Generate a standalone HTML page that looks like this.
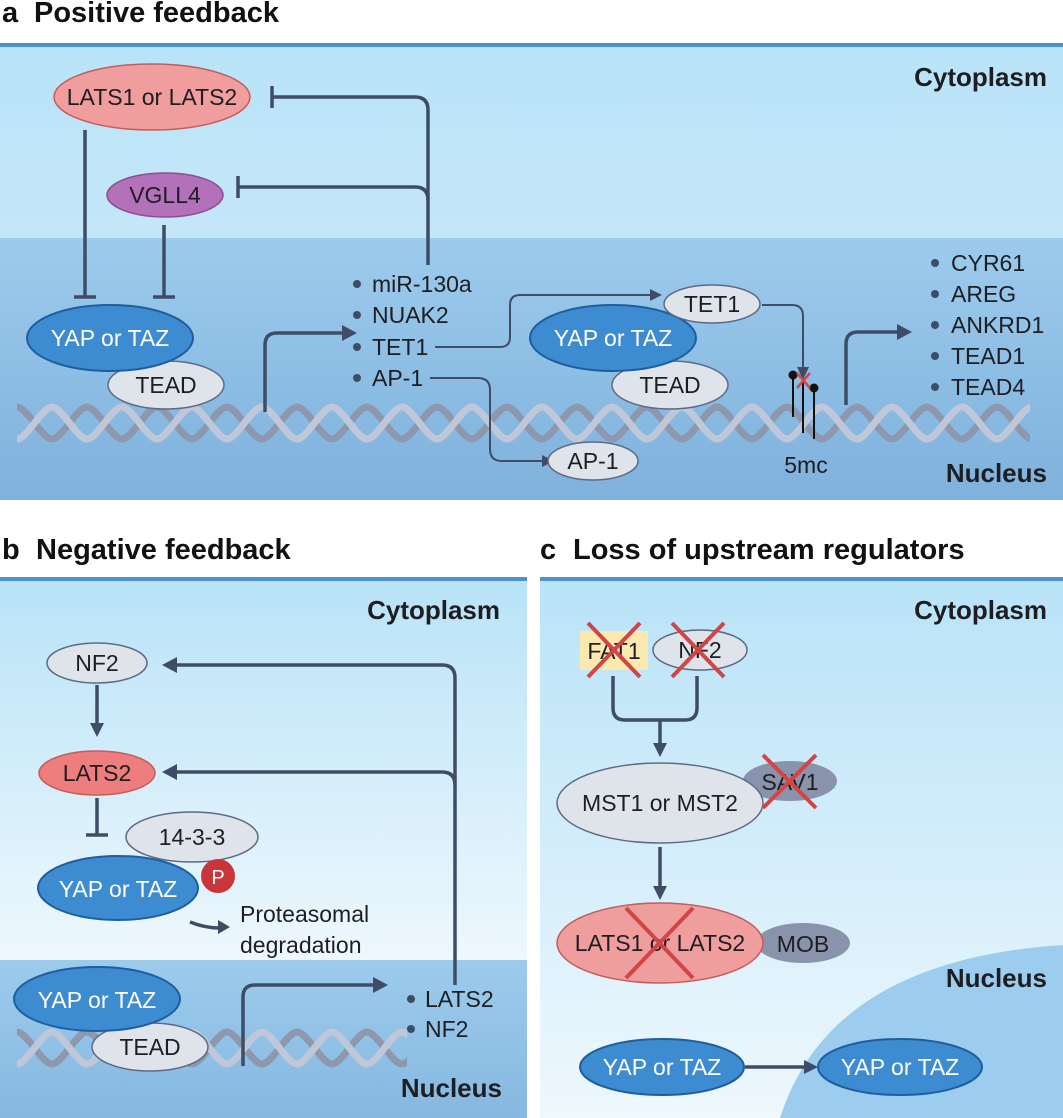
<!DOCTYPE html>
<html><head><meta charset="utf-8"><style>
html,body{margin:0;padding:0;background:#fff;}
svg{display:block;font-family:"Liberation Sans",sans-serif;}
.t{font-size:23px;fill:#1e1e22;}
.b{font-size:26px;font-weight:bold;fill:#1e1e22;}
.h{font-size:29px;font-weight:bold;fill:#111;}
.ln{fill:none;stroke:#3e4c66;stroke-width:3.5;}
.lt{fill:none;stroke:#3e4c66;stroke-width:2;}
.ar{fill:#3e4c66;}
.gray{fill:#dfe3ea;stroke:#5d6a86;stroke-width:1.5;}
.red{fill:#ef9d9d;stroke:#c65b5b;stroke-width:1.5;}
.blue{fill:#3d8bd0;stroke:#1f5e9e;stroke-width:2;}
.x{stroke:#d04646;stroke-width:4;}
</style></head><body>
<svg width="1063" height="1118" viewBox="0 0 1063 1118" xmlns="http://www.w3.org/2000/svg">
<defs>
<linearGradient id="ca" x1="0" y1="0" x2="0" y2="1"><stop offset="0" stop-color="#b9e3f8"/><stop offset="1" stop-color="#c4e7f8"/></linearGradient>
<linearGradient id="na" x1="0" y1="0" x2="0" y2="1"><stop offset="0" stop-color="#9ccbec"/><stop offset="1" stop-color="#7fb1dc"/></linearGradient>
<linearGradient id="cb" x1="0" y1="0" x2="0" y2="1"><stop offset="0" stop-color="#b9e3f8"/><stop offset="1" stop-color="#eef8fd"/></linearGradient>
<linearGradient id="nb" x1="0" y1="0" x2="0" y2="1"><stop offset="0" stop-color="#9ccbec"/><stop offset="1" stop-color="#86b8e0"/></linearGradient>
<pattern id="dna" x="17" y="403" width="70" height="40" patternUnits="userSpaceOnUse">
<path d="M0 4 C10 4 25 36 35 36 C45 36 60 4 70 4" fill="none" stroke="#8d97ad" stroke-width="7"/>
<path d="M0 36 C10 36 25 4 35 4 C45 4 60 36 70 36" fill="none" stroke="#bfc7d8" stroke-width="7"/>
</pattern>
<pattern id="dnb" x="17" y="1028" width="70" height="40" patternUnits="userSpaceOnUse">
<path d="M0 4 C10 4 25 36 35 36 C45 36 60 4 70 4" fill="none" stroke="#8d97ad" stroke-width="7"/>
<path d="M0 36 C10 36 25 4 35 4 C45 4 60 36 70 36" fill="none" stroke="#bfc7d8" stroke-width="7"/>
</pattern>
</defs>

<!-- PANEL A -->
<text x="2" y="22" class="h">a</text><text x="34" y="22" class="h">Positive feedback</text>
<rect x="0" y="43" width="1063" height="4" fill="#4a93cc"/>
<rect x="0" y="47" width="1063" height="191" fill="url(#ca)"/>
<rect x="0" y="238" width="1063" height="262" fill="url(#na)"/>
<text x="1047" y="86" class="b" text-anchor="end">Cytoplasm</text>
<text x="1047" y="482" class="b" text-anchor="end">Nucleus</text>
<rect x="17" y="403" width="1013" height="40" fill="url(#dna)"/>

<ellipse cx="152" cy="97" rx="98" ry="33" class="red"/>
<text x="152" y="105" class="t" text-anchor="middle">LATS1 or LATS2</text>
<ellipse cx="165" cy="195" rx="58" ry="22" fill="#b271b9" stroke="#8c4d95" stroke-width="1.5"/>
<text x="165" y="203" class="t" text-anchor="middle">VGLL4</text>
<ellipse cx="166" cy="385" rx="58" ry="24" class="gray"/>
<text x="166" y="393" class="t" text-anchor="middle">TEAD</text>
<ellipse cx="110" cy="338" rx="83" ry="33" class="blue"/>
<text x="110" y="346" class="t" text-anchor="middle" style="fill:#fff">YAP or TAZ</text>
<!-- inhibitors -->
<path class="ln" d="M85 130 V297"/><path class="ln" d="M74 297 H96"/>
<path class="ln" d="M164 225 V297"/><path class="ln" d="M153 297 H175"/>

<path class="ln" d="M265 412 V345 Q265 333 277 333 H345"/><path class="ar" d="M357 333 L342 325 L342 341Z"/>
<path class="ln" d="M428 265 V110 Q428 97 415 97 H272"/><path class="ln" d="M272 86 V108"/>
<path class="ln" d="M428 200 Q428 187 415 187 H238"/><path class="ln" d="M238 176 V198"/>

<g class="t"><circle cx="357" cy="284" r="4" class="ar"/><text x="372" y="292">miR-130a</text>
<circle cx="357" cy="315" r="4" class="ar"/><text x="372" y="323">NUAK2</text>
<circle cx="357" cy="347" r="4" class="ar"/><text x="372" y="355">TET1</text>
<circle cx="357" cy="378" r="4" class="ar"/><text x="372" y="386">AP-1</text></g>

<path class="lt" d="M435 347 H500 Q510 347 510 337 V305 Q510 295 520 295 H650"/><path class="ar" d="M662 295 L650 289 L650 301Z"/>
<path class="lt" d="M430 378 H478 Q490 378 490 390 V449 Q490 461 502 461 H542"/><path class="ar" d="M554 461 L542 455 L542 467Z"/>
<ellipse cx="593" cy="461" rx="45" ry="19" class="gray"/><text x="593" y="469" class="t" text-anchor="middle">AP-1</text>

<ellipse cx="670" cy="385" rx="58" ry="24" class="gray"/><text x="670" y="393" class="t" text-anchor="middle">TEAD</text>
<ellipse cx="613" cy="338" rx="83" ry="33" class="blue"/>
<text x="613" y="346" class="t" text-anchor="middle" style="fill:#fff">YAP or TAZ</text>
<ellipse cx="712" cy="304" rx="48" ry="19" class="gray"/><text x="712" y="312" class="t" text-anchor="middle">TET1</text>

<path class="lt" d="M762 305 H792 Q803 305 803 316 V368"/><path class="ar" d="M803 380 L797 367 L809 367Z"/>
<path d="M793 375 V417 M803 380 V433 M814 388 V439" stroke="#111" stroke-width="2"/>
<circle cx="793" cy="375" r="4.5" fill="#111"/><circle cx="814" cy="388" r="4.5" fill="#111"/>
<path class="x" style="stroke-width:2.5" d="M797 373 L810 388 M810 373 L797 388"/>
<text x="806" y="473" class="t" text-anchor="middle">5mc</text>
<path class="ln" d="M846 405 V344 Q846 332 858 332 H900"/><path class="ar" d="M912 332 L897 324 L897 340Z"/>
<g class="t"><circle cx="935" cy="263" r="4" class="ar"/><text x="951" y="271">CYR61</text>
<circle cx="935" cy="294" r="4" class="ar"/><text x="951" y="302">AREG</text>
<circle cx="935" cy="325" r="4" class="ar"/><text x="951" y="333">ANKRD1</text>
<circle cx="935" cy="356" r="4" class="ar"/><text x="951" y="364">TEAD1</text>
<circle cx="935" cy="387" r="4" class="ar"/><text x="951" y="395">TEAD4</text></g>

<!-- PANEL B -->
<text x="2" y="559" class="h">b</text><text x="36" y="559" class="h">Negative feedback</text>
<rect x="0" y="577" width="527" height="4" fill="#4a93cc"/>
<rect x="0" y="581" width="527" height="379" fill="url(#cb)"/>
<rect x="0" y="960" width="527" height="158" fill="url(#nb)"/>
<text x="500" y="619" class="b" text-anchor="end">Cytoplasm</text>
<text x="502" y="1097" class="b" text-anchor="end">Nucleus</text>
<rect x="17" y="1028" width="390" height="40" fill="url(#dnb)"/>

<ellipse cx="97" cy="663" rx="50" ry="20" class="gray"/><text x="97" y="671" class="t" text-anchor="middle">NF2</text>
<path class="ln" d="M97 685 V725"/><path class="ar" d="M97 737 L90 723 L104 723Z"/>
<ellipse cx="97" cy="773" rx="58" ry="22" fill="#ee7d7d" stroke="#c65b5b" stroke-width="1.5"/><text x="97" y="781" class="t" text-anchor="middle">LATS2</text>
<path class="ln" d="M97 798 V835"/><path class="ln" d="M86 835 H108"/>
<ellipse cx="192" cy="837" rx="66" ry="25" class="gray"/><text x="192" y="845" class="t" text-anchor="middle">14-3-3</text>
<ellipse cx="118" cy="888" rx="80" ry="32" class="blue"/><text x="118" y="897" class="t" text-anchor="middle" style="fill:#fff">YAP or TAZ</text>
<circle cx="218" cy="876" r="17" fill="#c8363a"/><text x="218" y="884" class="t" text-anchor="middle" style="fill:#fff;font-size:20px">P</text>
<path class="ln" d="M190 922 Q205 928 220 928"/><path class="ar" d="M230 927 L218 920 L218 934Z"/>
<text x="240" y="922" class="t">Proteasomal</text><text x="240" y="953" class="t">degradation</text>

<ellipse cx="150" cy="1047" rx="58" ry="24" class="gray"/><text x="150" y="1055" class="t" text-anchor="middle">TEAD</text>
<ellipse cx="97" cy="999" rx="83" ry="32" class="blue"/><text x="97" y="1008" class="t" text-anchor="middle" style="fill:#fff">YAP or TAZ</text>
<path class="ln" d="M243 1066 V997 Q243 985 255 985 H375"/><path class="ar" d="M388 985 L373 977 L373 993Z"/>
<g class="t"><circle cx="411" cy="999" r="4" class="ar"/><text x="425" y="1007">LATS2</text>
<circle cx="411" cy="1029" r="4" class="ar"/><text x="425" y="1037">NF2</text></g>
<path class="ln" d="M455 985 V678 Q455 665 442 665 H176"/><path class="ar" d="M162 665 L177 657 L177 673Z"/>
<path class="ln" d="M455 785 Q455 772 442 772 H176"/><path class="ar" d="M162 772 L177 764 L177 780Z"/>

<!-- PANEL C -->
<text x="540" y="559" class="h">c</text><text x="573" y="559" class="h">Loss of upstream regulators</text>
<rect x="540" y="577" width="523" height="4" fill="#4a93cc"/>
<rect x="540" y="581" width="523" height="537" fill="url(#cb)"/>
<path d="M780 1118 Q830 960 1063 945 V1118Z" fill="#9dcdee"/>
<text x="1047" y="619" class="b" text-anchor="end">Cytoplasm</text>
<text x="1047" y="987" class="b" text-anchor="end">Nucleus</text>

<rect x="580" y="631" width="68" height="39" fill="#fbe9b0"/><text x="614" y="659" class="t" text-anchor="middle">FAT1</text>
<ellipse cx="700" cy="650" rx="47" ry="20" class="gray"/><text x="700" y="658" class="t" text-anchor="middle">NF2</text>
<path class="x" d="M588 623 L640 677 M640 623 L588 677"/>
<path class="x" d="M672 623 L724 677 M724 623 L672 677"/>
<path class="ln" d="M613 676 V708 Q613 720 625 720 H685 Q697 720 697 708 V676"/>
<path class="ln" d="M660 720 V745"/><path class="ar" d="M660 757 L653 743 L667 743Z"/>

<ellipse cx="790" cy="781" rx="47" ry="20" fill="#8993ac"/><text x="790" y="790" class="t" text-anchor="middle">SAV1</text>
<ellipse cx="660" cy="803" rx="103" ry="40" class="gray"/><text x="660" y="811" class="t" text-anchor="middle">MST1 or MST2</text>
<path class="x" d="M763 755 L816 808 M816 755 L763 808"/>
<path class="ln" d="M660 847 V888"/><path class="ar" d="M660 900 L653 886 L667 886Z"/>

<ellipse cx="803" cy="943" rx="47" ry="20" fill="#8993ac"/><text x="803" y="952" class="t" text-anchor="middle">MOB</text>
<ellipse cx="660" cy="943" rx="103" ry="40" class="red"/><text x="660" y="951" class="t" text-anchor="middle">LATS1 or LATS2</text>
<path class="x" d="M626 908 L693 978 M693 908 L626 978"/>

<ellipse cx="662" cy="1067" rx="82" ry="28" class="blue"/><text x="662" y="1075" class="t" text-anchor="middle" style="fill:#fff">YAP or TAZ</text>
<path class="ln" d="M745 1067 H805"/><path class="ar" d="M818 1067 L804 1060 L804 1074Z"/>
<ellipse cx="900" cy="1067" rx="82" ry="28" class="blue"/><text x="900" y="1075" class="t" text-anchor="middle" style="fill:#fff">YAP or TAZ</text>
</svg>
</body></html>
